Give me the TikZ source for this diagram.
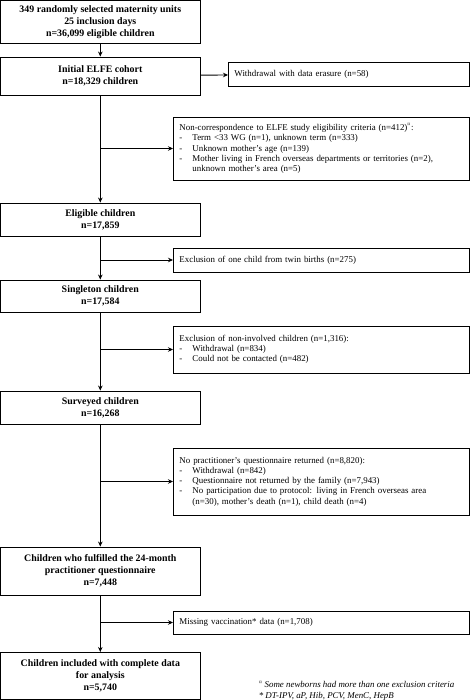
\documentclass[tikz,border=0pt]{standalone}
\usepackage{fontspec}
\setmainfont{Liberation Serif}
\usetikzlibrary{arrows.meta, positioning}
\newcommand{\mainfont}{\fontsize{9.9}{11.9}\selectfont\bfseries}
\newcommand{\sidefont}{\fontsize{8.9}{10.3}\selectfont}
\newcommand{\itm}{\makebox[13pt][l]{-}}
\newcommand{\cnt}{\hspace*{13pt}}
\tikzset{
  every picture/.style={line width=0.9pt},
  box/.style={draw, font=\mainfont, align=center, minimum width=199.4pt, inner sep=2pt},
  side/.style={draw, font=\sidefont, align=left, anchor=west, text width=284pt, inner xsep=6pt, inner ysep=2pt},
  arrow/.style={-{Stealth[length=5pt, width=4.5pt]}, line width=0.9pt},
  note/.style={font=\sidefont\itshape, align=left, anchor=west},
}
\begin{document}
\begin{tikzpicture}[x=1pt, y=-1pt]
  \useasboundingbox (0,0) rectangle (474,700);
  % main column
  \node[box, minimum height=42.4pt] (src) at (100.3,21.8) {349 randomly selected maternity units\\ 25 inclusion days\\ n=36,099 eligible children};
  \node[box, minimum height=38pt] (cohort) at (100.3,76) {Initial ELFE cohort\\ n=18,329 children};
  \node[box, minimum height=33pt] (eligible) at (100.3,219.5) {Eligible children\\ n=17,859};
  \node[box, minimum height=32pt] (singleton) at (100.3,296) {Singleton children\\ n=17,584};
  \node[box, minimum height=33pt] (surveyed) at (100.3,407.5) {Surveyed children\\ n=16,268};
  \node[box, minimum height=48pt] (fulfilled) at (100.3,571) {Children who fulfilled the 24-month\\ practitioner questionnaire\\ n=7,448};
  \node[box, minimum height=46.5pt] (included) at (100.3,675.7) {Children included with complete data\\ for analysis\\ n=5,740};
  % exclusions
  \node[side, text width=229pt, minimum height=24pt] (erasure) at (228,74) {Withdrawal with data erasure (n=58)};
  \node[side, minimum height=63pt] (noncorr) at (173,148.5) {Non-correspondence to ELFE study eligibility criteria (n=412)\textsuperscript{¤}:\\
    \itm Term <33 WG (n=1), unknown term (n=333)\\
    \itm Unknown mother's age (n=139)\\
    \itm Mother living in French overseas departments or territories (n=2),\\
    \cnt unknown mother's area (n=5)};
  \node[side, minimum height=24pt] (twin) at (173,260) {Exclusion of one child from twin births (n=275)};
  \node[side, minimum height=47pt] (noninv) at (173,349.5) {Exclusion of non-involved children (n=1,316):\\
    \itm Withdrawal (n=834)\\
    \itm Could not be contacted (n=482)};
  \node[side, minimum height=67pt] (noprac) at (173,481.5) {No practitioner's questionnaire returned (n=8,820):\\
    \itm Withdrawal (n=842)\\
    \itm Questionnaire not returned by the family (n=7,943)\\
    \itm\parbox[t]{271pt}{No participation due to protocol: living in French overseas area\linebreak (n=30), mother's death (n=1), child death (n=4)}};
  \node[side, minimum height=23pt] (missing) at (173,622.5) {Missing vaccination* data (n=1,708)};
  \node[note] (notes) at (255,690.5) {\textsuperscript{¤} Some newborns had more than one exclusion criteria\\ * DT-IPV, aP, Hib, PCV, MenC, HepB};
  % arrows
  \draw[arrow] (src) -- (cohort);
  \draw[arrow] (cohort) -- (eligible);
  \draw[arrow] (eligible) -- (singleton);
  \draw[arrow] (singleton) -- (surveyed);
  \draw[arrow] (surveyed) -- (fulfilled);
  \draw[arrow] (fulfilled) -- (included);
  \draw[arrow] (cohort) -- (erasure);
  \draw[arrow] (cohort.south |- noncorr.west) -- (noncorr);
  \draw[arrow] (eligible.south |- twin.west) -- (twin);
  \draw[arrow] (singleton.south |- noninv.west) -- (noninv);
  \draw[arrow] (surveyed.south |- noprac.west) -- (noprac);
  \draw[arrow] (fulfilled.south |- missing.west) -- (missing);
\end{tikzpicture}
\end{document}
